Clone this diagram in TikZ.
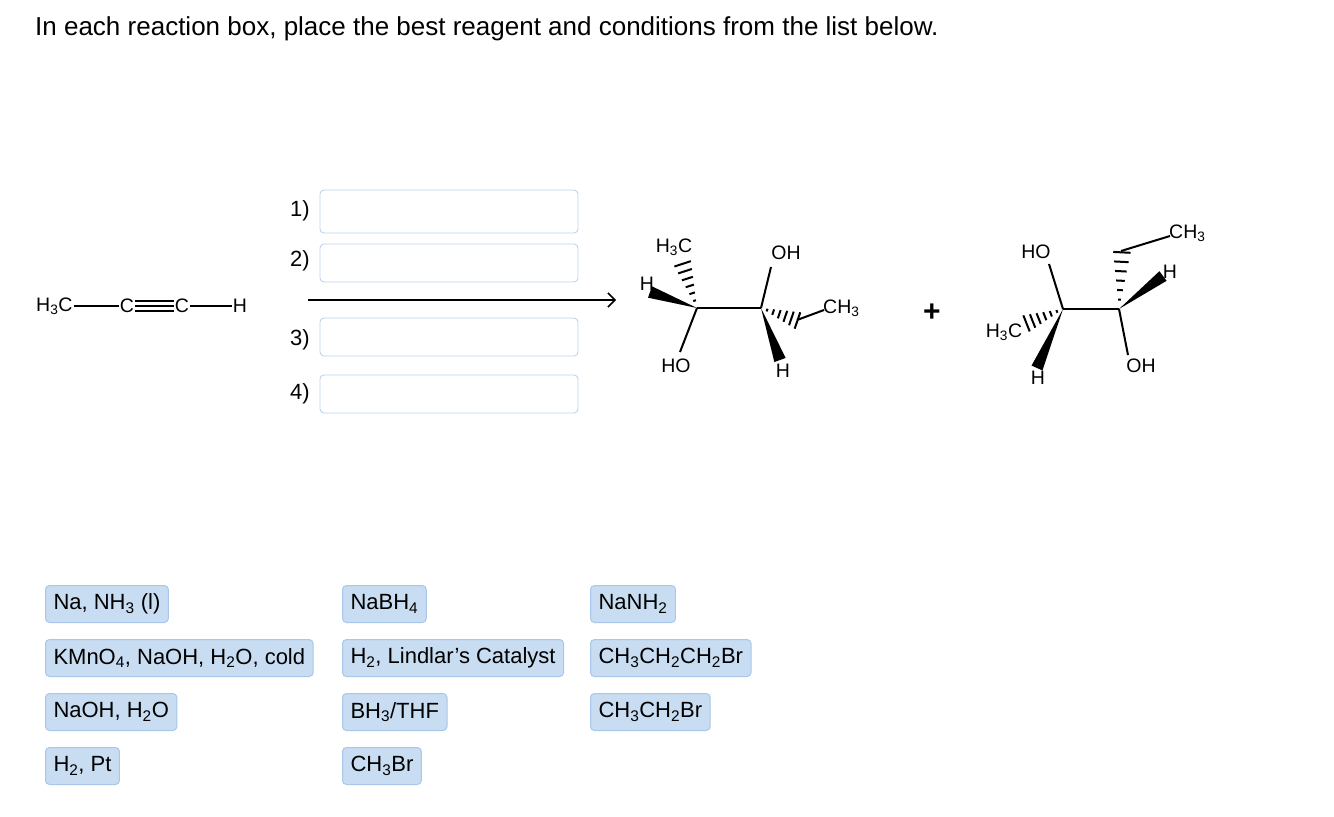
\documentclass[tikz,border=0pt]{standalone}
\usepackage{fontspec}
\setmainfont{Liberation Sans}
\usetikzlibrary{calc,arrows.meta}
\newcommand{\sub}[1]{\textsubscript{#1}}
\newcommand{\hashb}[3]{% from, to, halfwidth at end
  \foreach \t in {0.16,0.32,...,0.97}{
    \draw[line width=2pt] ($(#1)!\t!(#2)!{#3*\t*1pt}!90:(#2)$) -- ($(#1)!\t!(#2)!{-#3*\t*1pt}!90:(#2)$);}}
\newcommand{\wedgeb}[3]{%
  \fill (#1) -- ($(#2)!#3pt!90:(#1)$) -- ($(#2)!-#3pt!90:(#1)$) -- cycle;}
\definecolor{tilefill}{HTML}{C8DCF2}
\definecolor{tileline}{HTML}{A9C7EA}
\tikzset{
  tile/.style={fill=tilefill, draw=tileline, line width=1pt, rounded corners=4pt, anchor=west, inner xsep=8pt, minimum height=37pt, font=\fontsize{22}{24}\selectfont},
  ansbox/.style={draw=tileline!80, line width=0.9pt, rounded corners=4pt},
  lab/.style={font=\fontsize{19.5}{21}\selectfont, inner sep=1pt},
  num/.style={font=\fontsize{22}{24}\selectfont, inner sep=1pt},
  bond/.style={line width=2pt},
}
\begin{document}
\begin{tikzpicture}[x=1pt,y=-1pt]
\useasboundingbox (0,0) rectangle (1334,817);
\node[anchor=base west, font=\fontsize{26}{28}\selectfont, inner sep=0] (title) at (35,35) {In each reaction box, place the best reagent and conditions from the list below.};
% alkyne
\node[lab,anchor=west] (a1) at (35,306) {H\sub{3}C};
\node[lab] (a2) at (127,306) {C};
\node[lab] (a3) at (182,306) {C};
\node[lab] (a4) at (240,306) {H};
\draw[line width=1.4pt] (a1.east) -- (a2.west);
\draw[line width=1.4pt] (a3.east) -- (a4.west);
\draw[line width=1.4pt] (a2.east) -- (a3.west);
\draw[line width=1.4pt] ($(a2.east)+(0,-5)$) -- ($(a3.west)+(0,-5)$);
\draw[line width=1.4pt] ($(a2.east)+(0,5)$) -- ($(a3.west)+(0,5)$);
% answer boxes
\draw[ansbox] (320,190) rectangle (578,233);
\draw[ansbox] (320,244) rectangle (578,282);
\draw[ansbox] (320,318) rectangle (578,356);
\draw[ansbox] (320,375) rectangle (578,413);
\node[num] (n1) at (300,211) {1)};
\node[num] (n2) at (300,261) {2)};
\node[num] (n3) at (300,340) {3)};
\node[num] (n4) at (300,394) {4)};
\coordinate (ar1) at (308,300); \coordinate (ar2) at (616,300);
\draw[line width=1.5pt,-{Straight Barb[length=7pt,width=14pt]}] (ar1) -- (ar2);
% product 1
\coordinate (c1) at (697,308); \coordinate (c2) at (761,308);
\draw[bond] (c1) -- (c2);
\hashb{c1}{682,262}{9}
\node[lab] (l1) at (674,247) {H\sub{3}C};
\wedgeb{c1}{650,292}{6}
\node[lab] (l2) at (647,284) {H};
\draw[bond] (c1) -- (680,352);
\node[lab] (l3) at (676,366) {HO};
\draw[bond] (c2) -- (771,267);
\node[lab] (l4) at (786,253) {OH};
\hashb{c2}{799,321}{9}
\draw[bond] (797,320) -- (824,310);
\node[lab,anchor=west] (l5) at (822,308) {CH\sub{3}};
\wedgeb{c2}{780,360}{6}
\node[lab] (l6) at (783,371) {H};
\node[font=\fontsize{30}{32}\selectfont\bfseries] (plus) at (932,313) {+};
% product 2
\coordinate (c3) at (1063,309); \coordinate (c4) at (1119,309);
\draw[bond] (c3) -- (c4);
\draw[bond] (c3) -- (1049,264);
\node[lab] (l7) at (1036,252) {HO};
\hashb{c3}{1025,324}{9}
\node[lab] (l8) at (1004,332) {H\sub{3}C};
\wedgeb{c3}{1037,368}{6}
\node[lab] (l9) at (1038,378) {H};
\hashb{c4}{1122,250}{9}
\draw[bond] (1121,251) -- (1170,236);
\node[lab,anchor=west] (l10) at (1168,233) {CH\sub{3}};
\wedgeb{c4}{1163,276}{6}
\node[lab] (l11) at (1170,272) {H};
\draw[bond] (c4) -- (1128,355);
\node[lab] (l12) at (1141,366) {OH};
% tiles
\node[tile] (t1) at (45,604) {Na, NH\sub{3} (l)};
\node[tile] (t2) at (45,658) {KMnO\sub{4}, NaOH, H\sub{2}O, cold};
\node[tile] (t3) at (45,712) {NaOH, H\sub{2}O};
\node[tile] (t4) at (45,766) {H\sub{2}, Pt};
\node[tile] (t5) at (342,604) {NaBH\sub{4}};
\node[tile] (t6) at (342,658) {H\sub{2}, Lindlar's Catalyst};
\node[tile] (t7) at (342,712) {BH\sub{3}/THF};
\node[tile] (t8) at (342,766) {CH\sub{3}Br};
\node[tile] (t9) at (590,604) {NaNH\sub{2}};
\node[tile] (t10) at (590,658) {CH\sub{3}CH\sub{2}CH\sub{2}Br};
\node[tile] (t11) at (590,712) {CH\sub{3}CH\sub{2}Br};
\end{tikzpicture}
\end{document}
